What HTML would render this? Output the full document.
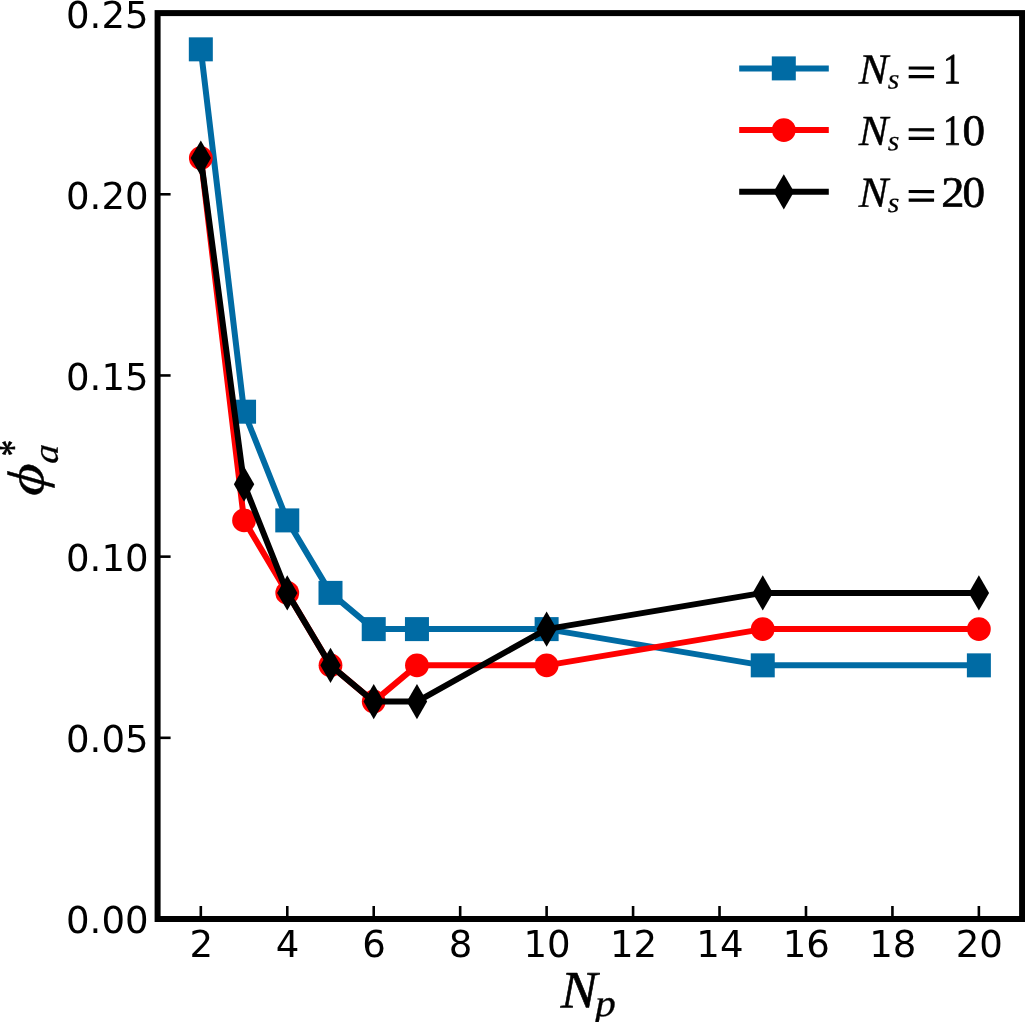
<!DOCTYPE html>
<html lang="en"><head><meta charset="utf-8"><title>phi_a* vs N_p</title>
<style>html,body{margin:0;padding:0;background:#fff}svg{display:block}.t{font-family:"DejaVu Sans","Liberation Sans",sans-serif;font-size:37.1px;fill:#000}.m{font-family:"Liberation Serif","DejaVu Serif",serif;fill:#000;text-rendering:geometricPrecision}.i{font-style:italic}</style></head><body>
<svg width="1025" height="1022" viewBox="0 0 1025 1022">
<rect x="0" y="0" width="1025" height="1022" fill="#fff"/>
<g stroke="#000" stroke-width="2.6" fill="none">
<line x1="200.82" y1="919.00" x2="200.82" y2="906.00"/>
<line x1="287.27" y1="919.00" x2="287.27" y2="906.00"/>
<line x1="373.73" y1="919.00" x2="373.73" y2="906.00"/>
<line x1="460.17" y1="919.00" x2="460.17" y2="906.00"/>
<line x1="546.62" y1="919.00" x2="546.62" y2="906.00"/>
<line x1="633.08" y1="919.00" x2="633.08" y2="906.00"/>
<line x1="719.52" y1="919.00" x2="719.52" y2="906.00"/>
<line x1="805.98" y1="919.00" x2="805.98" y2="906.00"/>
<line x1="892.43" y1="919.00" x2="892.43" y2="906.00"/>
<line x1="978.88" y1="919.00" x2="978.88" y2="906.00"/>
<line x1="157.60" y1="919.00" x2="170.60" y2="919.00"/>
<line x1="157.60" y1="737.82" x2="170.60" y2="737.82"/>
<line x1="157.60" y1="556.64" x2="170.60" y2="556.64"/>
<line x1="157.60" y1="375.46" x2="170.60" y2="375.46"/>
<line x1="157.60" y1="194.28" x2="170.60" y2="194.28"/>
<line x1="157.60" y1="13.10" x2="170.60" y2="13.10"/>
</g>
<polyline points="200.82,49.34 244.05,411.70 287.27,520.40 330.50,592.88 373.73,629.11 416.95,629.11 546.62,629.11 762.75,665.35 978.88,665.35" fill="none" stroke="#006BA4" stroke-width="6.0" stroke-linejoin="round" stroke-linecap="butt"/>
<rect x="188.82" y="37.34" width="24.0" height="24.0" fill="#006BA4"/>
<rect x="232.05" y="399.70" width="24.0" height="24.0" fill="#006BA4"/>
<rect x="275.27" y="508.40" width="24.0" height="24.0" fill="#006BA4"/>
<rect x="318.50" y="580.88" width="24.0" height="24.0" fill="#006BA4"/>
<rect x="361.73" y="617.11" width="24.0" height="24.0" fill="#006BA4"/>
<rect x="404.95" y="617.11" width="24.0" height="24.0" fill="#006BA4"/>
<rect x="534.62" y="617.11" width="24.0" height="24.0" fill="#006BA4"/>
<rect x="750.75" y="653.35" width="24.0" height="24.0" fill="#006BA4"/>
<rect x="966.88" y="653.35" width="24.0" height="24.0" fill="#006BA4"/>
<polyline points="200.82,158.04 244.05,520.40 287.27,592.88 330.50,665.35 373.73,701.58 416.95,665.35 546.62,665.35 762.75,629.11 978.88,629.11" fill="none" stroke="#FF0000" stroke-width="6.0" stroke-linejoin="round" stroke-linecap="butt"/>
<circle cx="200.82" cy="158.04" r="11.9" fill="#FF0000"/>
<circle cx="244.05" cy="520.40" r="11.9" fill="#FF0000"/>
<circle cx="287.27" cy="592.88" r="11.9" fill="#FF0000"/>
<circle cx="330.50" cy="665.35" r="11.9" fill="#FF0000"/>
<circle cx="373.73" cy="701.58" r="11.9" fill="#FF0000"/>
<circle cx="416.95" cy="665.35" r="11.9" fill="#FF0000"/>
<circle cx="546.62" cy="665.35" r="11.9" fill="#FF0000"/>
<circle cx="762.75" cy="629.11" r="11.9" fill="#FF0000"/>
<circle cx="978.88" cy="629.11" r="11.9" fill="#FF0000"/>
<polyline points="200.82,158.04 244.05,484.17 287.27,592.88 330.50,665.35 373.73,701.58 416.95,701.58 546.62,629.11 762.75,592.88 978.88,592.88" fill="none" stroke="#000000" stroke-width="6.0" stroke-linejoin="round" stroke-linecap="butt"/>
<polygon points="200.82,140.44 211.02,158.04 200.82,175.64 190.62,158.04" fill="#000000"/>
<polygon points="244.05,466.57 254.25,484.17 244.05,501.77 233.85,484.17" fill="#000000"/>
<polygon points="287.27,575.28 297.47,592.88 287.27,610.48 277.07,592.88" fill="#000000"/>
<polygon points="330.50,647.75 340.70,665.35 330.50,682.95 320.30,665.35" fill="#000000"/>
<polygon points="373.73,683.98 383.93,701.58 373.73,719.18 363.53,701.58" fill="#000000"/>
<polygon points="416.95,683.98 427.15,701.58 416.95,719.18 406.75,701.58" fill="#000000"/>
<polygon points="546.62,611.51 556.83,629.11 546.62,646.71 536.42,629.11" fill="#000000"/>
<polygon points="762.75,575.28 772.95,592.88 762.75,610.48 752.55,592.88" fill="#000000"/>
<polygon points="978.88,575.28 989.08,592.88 978.88,610.48 968.67,592.88" fill="#000000"/>
<rect x="157.60" y="13.10" width="864.50" height="905.90" fill="none" stroke="#000" stroke-width="6.0"/>
<text class="t" x="201.22" y="956.8" text-anchor="middle">2</text>
<text class="t" x="287.67" y="956.8" text-anchor="middle">4</text>
<text class="t" x="374.12" y="956.8" text-anchor="middle">6</text>
<text class="t" x="460.57" y="956.8" text-anchor="middle">8</text>
<text class="t" x="547.02" y="956.8" text-anchor="middle">10</text>
<text class="t" x="633.48" y="956.8" text-anchor="middle">12</text>
<text class="t" x="719.92" y="956.8" text-anchor="middle">14</text>
<text class="t" x="806.38" y="956.8" text-anchor="middle">16</text>
<text class="t" x="892.83" y="956.8" text-anchor="middle">18</text>
<text class="t" x="979.27" y="956.8" text-anchor="middle">20</text>
<text class="t" x="148.6" y="933.25" text-anchor="end">0.00</text>
<text class="t" x="148.6" y="752.07" text-anchor="end">0.05</text>
<text class="t" x="148.6" y="570.89" text-anchor="end">0.10</text>
<text class="t" x="148.6" y="389.71" text-anchor="end">0.15</text>
<text class="t" x="148.6" y="208.53" text-anchor="end">0.20</text>
<text class="t" x="148.6" y="27.85" text-anchor="end">0.25</text>
<line x1="739.2" y1="68.40" x2="828.8" y2="68.40" stroke="#006BA4" stroke-width="6.0"/>
<rect x="771.80" y="56.40" width="24.0" height="24.0" fill="#006BA4"/>
<g>
<text class="m" transform="matrix(1.1031 0.00096 -0.0010 1.0691 858.72 83.40)" font-size="40.0" font-style="italic" stroke="#000" stroke-width="0.368" stroke-linejoin="round">N</text>
<text class="m" transform="matrix(0.7464 0.00064 -0.0007 0.7095 887.79 88.62)" font-size="40.0" font-style="italic" stroke="#000" stroke-width="0.275" stroke-linejoin="round">s</text>
<text class="m" transform="matrix(1.2948 0.00096 -0.0012 1.0700 906.82 86.56)" font-size="40.0" stroke="#000" stroke-width="1.015" stroke-linejoin="miter">=</text>
<text class="m" transform="matrix(0.8806 0.00097 -0.0008 1.0793 943.15 83.15)" font-size="40.0" stroke="#000" stroke-width="0.714" stroke-linejoin="round">1</text>
</g>
<line x1="739.2" y1="130.10" x2="828.8" y2="130.10" stroke="#FF0000" stroke-width="6.0"/>
<circle cx="783.80" cy="130.10" r="11.9" fill="#FF0000"/>
<g>
<text class="m" transform="matrix(1.1031 0.00096 -0.0010 1.0691 858.72 145.10)" font-size="40.0" font-style="italic" stroke="#000" stroke-width="0.368" stroke-linejoin="round">N</text>
<text class="m" transform="matrix(0.7464 0.00064 -0.0007 0.7095 887.79 150.32)" font-size="40.0" font-style="italic" stroke="#000" stroke-width="0.275" stroke-linejoin="round">s</text>
<text class="m" transform="matrix(1.2948 0.00096 -0.0012 1.0700 906.82 148.26)" font-size="40.0" stroke="#000" stroke-width="1.015" stroke-linejoin="miter">=</text>
<text class="m" transform="matrix(0.8806 0.00097 -0.0008 1.0793 943.15 144.85)" font-size="40.0" stroke="#000" stroke-width="0.714" stroke-linejoin="round">1</text>
<text class="m" transform="matrix(1.1266 0.00098 -0.0010 1.0892 962.53 145.02)" font-size="40.0" stroke="#000" stroke-width="0.632" stroke-linejoin="round">0</text>
</g>
<line x1="739.2" y1="191.80" x2="828.8" y2="191.80" stroke="#000000" stroke-width="6.0"/>
<polygon points="783.80,174.20 794.00,191.80 783.80,209.40 773.60,191.80" fill="#000000"/>
<g>
<text class="m" transform="matrix(1.1031 0.00096 -0.0010 1.0691 858.72 206.80)" font-size="40.0" font-style="italic" stroke="#000" stroke-width="0.368" stroke-linejoin="round">N</text>
<text class="m" transform="matrix(0.7464 0.00064 -0.0007 0.7095 887.79 212.02)" font-size="40.0" font-style="italic" stroke="#000" stroke-width="0.275" stroke-linejoin="round">s</text>
<text class="m" transform="matrix(1.2948 0.00096 -0.0012 1.0700 906.82 209.96)" font-size="40.0" stroke="#000" stroke-width="1.015" stroke-linejoin="miter">=</text>
<text class="m" transform="matrix(1.1600 0.00097 -0.0010 1.0799 941.21 206.65)" font-size="40.0" stroke="#000" stroke-width="0.625" stroke-linejoin="round">2</text>
<text class="m" transform="matrix(1.1266 0.00098 -0.0010 1.0892 962.53 206.72)" font-size="40.0" stroke="#000" stroke-width="0.632" stroke-linejoin="round">0</text>
</g>
<g>
<text class="m" transform="matrix(1.3667 0.00118 -0.0012 1.3134 560.80 1007.60)" font-size="40.0" font-style="italic" stroke="#000" stroke-width="0.448" stroke-linejoin="round">N</text>
<text class="m" transform="matrix(1.0410 0.00086 -0.0009 0.9557 594.89 1015.91)" font-size="40.0" font-style="italic" stroke="#000" stroke-width="0.300" stroke-linejoin="round">p</text>
</g>
<g transform="rotate(-90)">
<text class="m" transform="matrix(1.5551 0.00117 -0.0869 1.3014 -496.52 43.52)" font-size="40.0" font-style="italic" stroke="#000" stroke-width="0.280" stroke-linejoin="round">ϕ</text>
<text class="m" transform="matrix(0.9538 0.00080 -0.0772 0.8915 -464.32 57.68)" font-size="40.0" font-style="italic" stroke="#000" stroke-width="0.325" stroke-linejoin="round">a</text>
<text class="m" transform="matrix(0.8368 0.00094 -0.0008 1.0499 -456.38 27.05)" font-size="40.0" stroke="#000" stroke-width="0.530" stroke-linejoin="round">*</text>
</g>
</svg></body></html>
